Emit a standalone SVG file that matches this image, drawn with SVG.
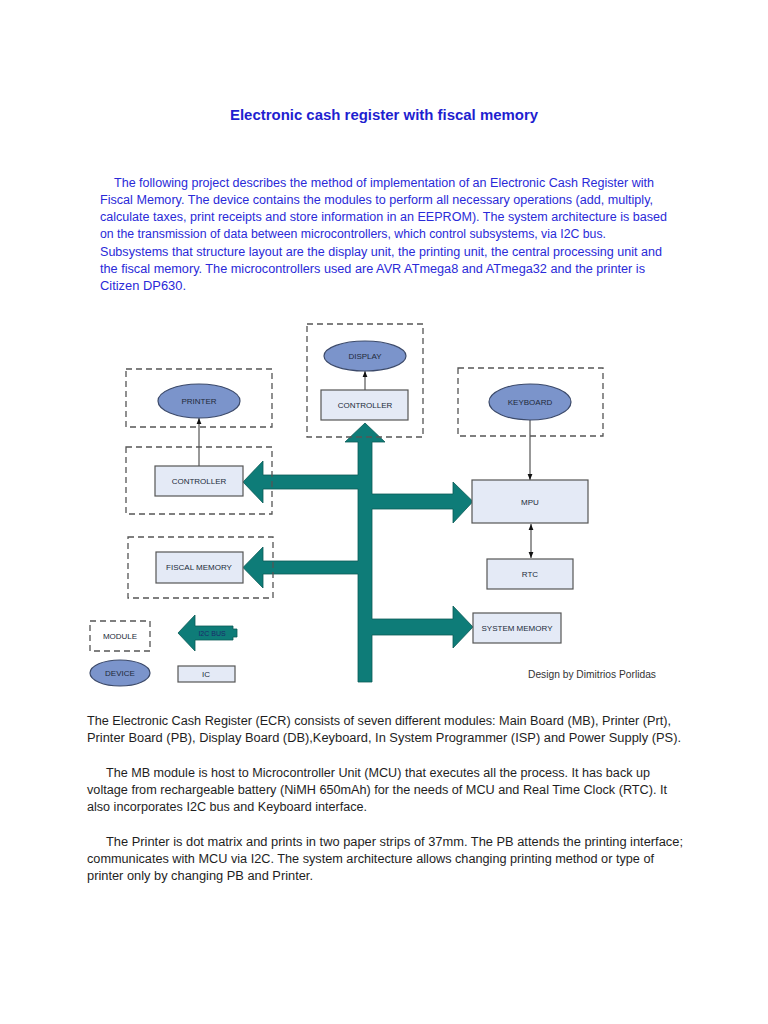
<svg xmlns="http://www.w3.org/2000/svg" width="768" height="1024" viewBox="0 0 768 1024">
<style>
.bg{fill:#ffffff}
.title{font-family:"Liberation Sans",Arial,sans-serif;font-size:14px;font-weight:bold;fill:#1f1fd0}
.pb{font-family:"Liberation Sans",Arial,sans-serif;font-size:12.5px;fill:#2a2ad8}
.pk{font-family:"Liberation Sans",Arial,sans-serif;font-size:12.5px;fill:#1e1e1e}
.mod{fill:none;stroke:#555;stroke-width:1.3;stroke-dasharray:6,4}
.ic{fill:#e4eaf6;stroke:#555;stroke-width:1.2}
.dev{fill:#7b94cb;stroke:#3c4a6a;stroke-width:1.2}
.lbl{font-family:"Liberation Sans",Arial,sans-serif;font-size:8px;fill:#222a3a;text-anchor:middle;dominant-baseline:central}
.bus{fill:#0e7c78;stroke:#0a5a56;stroke-width:0.8}
.thin{stroke:#333;stroke-width:1;fill:none}
.credit{font-family:"Liberation Sans",Arial,sans-serif;font-size:10px;fill:#333}
</style>
<defs>
<marker id="ah" viewBox="0 0 10 10" refX="10" refY="5" markerWidth="6" markerHeight="6" orient="auto-start-reverse">
<path d="M0,1 L10,5 L0,9 Z" fill="#111"/>
</marker>
</defs>
<rect class="bg" x="0" y="0" width="768" height="1024"/>

<text class="title" x="384" y="120" text-anchor="middle" textLength="308" lengthAdjust="spacingAndGlyphs">Electronic cash register with fiscal memory</text>

<g id="intro">
<text class="pb" x="114" y="187" textLength="540" lengthAdjust="spacingAndGlyphs">The following project describes the method of implementation of an Electronic Cash Register with</text>
<text class="pb" x="100" y="204" textLength="553" lengthAdjust="spacingAndGlyphs">Fiscal Memory. The device contains the modules to perform all necessary operations (add, multiply,</text>
<text class="pb" x="100" y="221" textLength="567" lengthAdjust="spacingAndGlyphs">calculate taxes, print receipts and store information in an EEPROM). The system architecture is based</text>
<text class="pb" x="100" y="238" textLength="506" lengthAdjust="spacingAndGlyphs">on the transmission of data between microcontrollers, which control subsystems, via I2C bus.</text>
<text class="pb" x="100" y="255.5" textLength="562" lengthAdjust="spacingAndGlyphs">Subsystems that structure layout are the display unit, the printing unit, the central processing unit and</text>
<text class="pb" x="100" y="272.5" textLength="545" lengthAdjust="spacingAndGlyphs">the fiscal memory. The microcontrollers used are AVR ATmega8 and ATmega32 and the printer is</text>
<text class="pb" x="100" y="289.5" textLength="86" lengthAdjust="spacingAndGlyphs">Citizen DP630.</text>
</g>

<g id="connectors">
<path class="bus" d="M365,423 L385,442 L372,442 L372,494 L453,494 L453,482 L473,501.5 L453,523 L453,509 L372,509 L372,619 L453,619 L453,606 L473,627 L453,648 L453,635 L372,635 L372,682 L358,682 L358,574 L263,574 L263,588 L243,567.5 L263,547 L263,561 L358,561 L358,489 L263,489 L263,503 L243,482 L263,461 L263,475 L358,475 L358,442 L345,442 Z"/>
<line class="thin" x1="199" y1="466" x2="199" y2="418" marker-end="url(#ah)"/>
<line class="thin" x1="365" y1="390" x2="365" y2="371" marker-end="url(#ah)"/>
<line class="thin" x1="530" y1="420" x2="530" y2="480" marker-end="url(#ah)"/>
<line class="thin" x1="531" y1="524" x2="531" y2="558" marker-start="url(#ah)" marker-end="url(#ah)"/>
</g>

<g id="printer-module">
<rect class="mod" x="126" y="369" width="146" height="58"/>
<ellipse class="dev" cx="199" cy="401" rx="41" ry="17"/>
<text class="lbl" x="199" y="401">PRINTER</text>
</g>
<g id="printer-controller-module">
<rect class="mod" x="126" y="447" width="146" height="67"/>
<rect class="ic" x="155" y="466" width="88" height="30"/>
<text class="lbl" x="199" y="481">CONTROLLER</text>
</g>
<g id="display-module">
<rect class="mod" x="307" y="324" width="116" height="113"/>
<ellipse class="dev" cx="365" cy="356" rx="41" ry="15"/>
<text class="lbl" x="365" y="356">DISPLAY</text>
<rect class="ic" x="321" y="390" width="87" height="30"/>
<text class="lbl" x="365" y="405">CONTROLLER</text>
</g>
<g id="keyboard-module">
<rect class="mod" x="458" y="368" width="145" height="68"/>
<ellipse class="dev" cx="530" cy="402" rx="41" ry="18"/>
<text class="lbl" x="530" y="402">KEYBOARD</text>
</g>
<g id="mpu">
<rect class="ic" x="472" y="480" width="116" height="43"/>
<text class="lbl" x="530" y="502">MPU</text>
</g>
<g id="rtc">
<rect class="ic" x="487" y="559" width="86" height="30"/>
<text class="lbl" x="530" y="574">RTC</text>
</g>
<g id="system-memory">
<rect class="ic" x="473" y="613" width="88" height="30"/>
<text class="lbl" x="517" y="628">SYSTEM MEMORY</text>
</g>
<g id="fiscal-memory-module">
<rect class="mod" x="128" y="537" width="145" height="61"/>
<rect class="ic" x="156" y="552" width="87" height="31"/>
<text class="lbl" x="199" y="567">FISCAL MEMORY</text>
</g>

<g id="legend">
<rect class="mod" x="90" y="621" width="60" height="30"/>
<text class="lbl" x="120" y="636">MODULE</text>
<path class="bus" d="M178,633 L195,615 L195,626 L233,626 L233,629 L237,629 L237,637 L233,637 L233,640 L195,640 L195,651 Z"/>
<text class="lbl" x="212" y="633" style="font-size:7px;fill:#1a2a6a">I2C BUS</text>
<ellipse class="dev" cx="120" cy="673" rx="30" ry="13"/>
<text class="lbl" x="120" y="673">DEVICE</text>
<rect class="ic" x="178" y="666" width="57" height="16"/>
<text class="lbl" x="206" y="674">IC</text>
</g>
<text class="credit" x="528" y="678" textLength="128" lengthAdjust="spacingAndGlyphs">Design by Dimitrios Porlidas</text>

<g id="body">
<text class="pk" x="87" y="724.5" textLength="584" lengthAdjust="spacingAndGlyphs">The Electronic Cash Register (ECR) consists of seven different modules: Main Board (MB), Printer (Prt),</text>
<text class="pk" x="87" y="741.5" textLength="594" lengthAdjust="spacingAndGlyphs">Printer Board (PB), Display Board (DB),Keyboard, In System Programmer (ISP) and Power Supply (PS).</text>
<text class="pk" x="106" y="776.5" textLength="544" lengthAdjust="spacingAndGlyphs">The MB module is host to Microcontroller Unit (MCU) that executes all the process. It has back up</text>
<text class="pk" x="87" y="793.5" textLength="580" lengthAdjust="spacingAndGlyphs">voltage from rechargeable battery (NiMH 650mAh) for the needs of MCU and Real Time Clock (RTC). It</text>
<text class="pk" x="87" y="810.5" textLength="280" lengthAdjust="spacingAndGlyphs">also incorporates I2C bus and Keyboard interface.</text>
<text class="pk" x="106" y="845.5" textLength="577" lengthAdjust="spacingAndGlyphs">The Printer is dot matrix and prints in two paper strips of 37mm. The PB attends the printing interface;</text>
<text class="pk" x="87" y="862.5" textLength="567" lengthAdjust="spacingAndGlyphs">communicates with MCU via I2C. The system architecture allows changing printing method or type of</text>
<text class="pk" x="87" y="879.5" textLength="226" lengthAdjust="spacingAndGlyphs">printer only by changing PB and Printer.</text>
</g>
</svg>
